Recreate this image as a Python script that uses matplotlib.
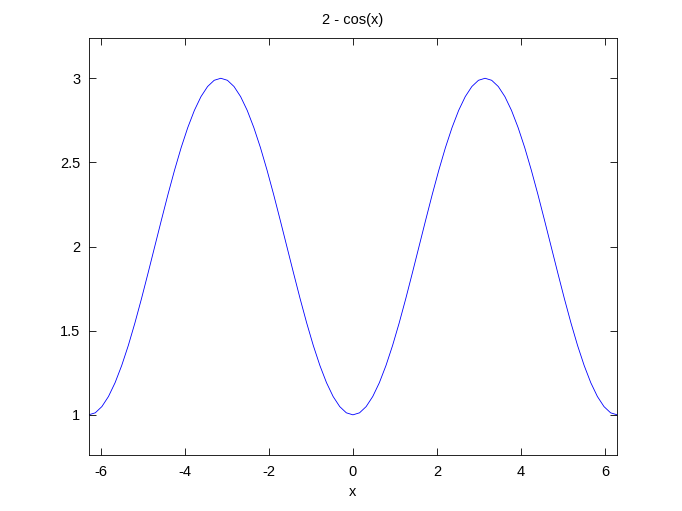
import numpy as np
import matplotlib
matplotlib.use("Agg")
import matplotlib.pyplot as plt

# Values at x = k*pi/20, k = -40..40
half = [1.000, 1.012, 1.049, 1.109, 1.191, 1.293, 1.412, 1.546, 1.691, 1.844,
        2.000, 2.156, 2.309, 2.454, 2.588, 2.707, 2.809, 2.891, 2.951, 2.988, 3.000]
# 0..pi, then mirror to pi..2pi
pos_vals = half + half[-2::-1]          # k = 0..40
y_vals = pos_vals[:0:-1] + pos_vals     # k = -40..40
x_steps = list(range(-40, 41))
x_vals = [k * np.pi / 20 for k in x_steps]

xticks = [-6, -4, -2, 0, 2, 4, 6]
yticks = [1, 1.5, 2, 2.5, 3]
ytick_labels = ["1", "1.5", "2", "2.5", "3"]

plt.rcParams['font.family'] = ['Liberation Sans', 'DejaVu Sans']
fig = plt.figure(figsize=(6.82, 5.11), dpi=100)
ax = fig.add_axes([0.13, 0.11, 0.775, 0.815])
ax.plot(x_vals, y_vals, color='#0000ff', linewidth=0.6)
ax.set_xlim(-2 * np.pi, 2 * np.pi)
ax.set_ylim(0.7626, 3.2374)
ax.set_xticks(xticks)
ax.set_xticklabels([str(t) for t in xticks])
ax.set_yticks(yticks)
ax.set_yticklabels(ytick_labels)
ax.tick_params(direction='in', top=True, right=True, labelsize=10.5, length=5, width=0.6)
ax.tick_params(axis='x', pad=7)
ax.tick_params(axis='y', pad=6)
for s in ax.spines.values():
    s.set_linewidth(0.6)
ax.set_title("2 - cos(x)", fontsize=10.5, pad=10)
ax.set_xlabel("x", fontsize=10.5, labelpad=5)
fig.savefig("out.png", dpi=100)
